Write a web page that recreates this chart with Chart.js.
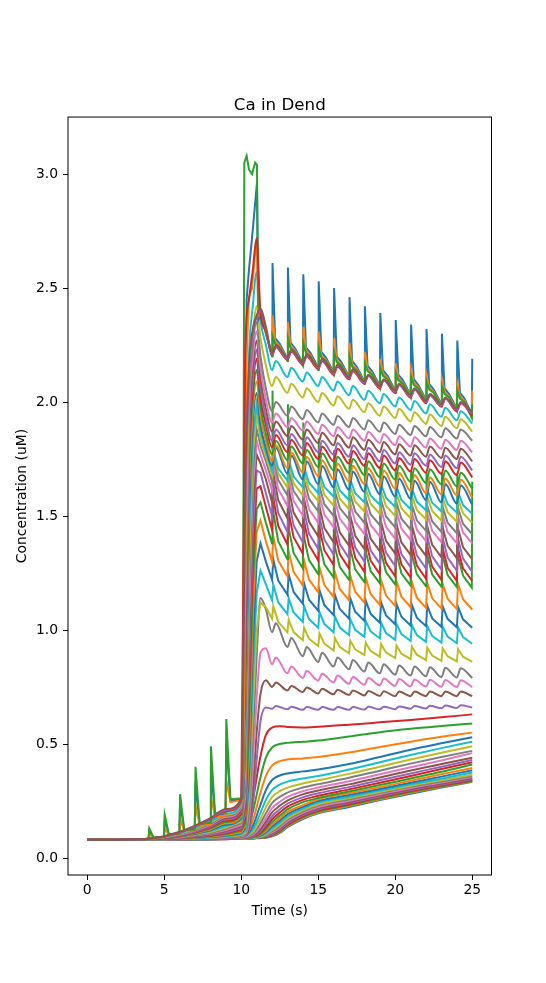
<!DOCTYPE html>
<html>
<head>
<meta charset="utf-8">
<script src="https://cdn.jsdelivr.net/npm/chart.js@4.4.1/dist/chart.umd.min.js"></script>
<style>
html,body{margin:0;padding:0;background:#fff;}
canvas{display:block;}
</style>
</head>
<body>
<canvas id="c" width="546" height="983" style="width:546px;height:983px"></canvas>
<script>
// ---------------- DATA ----------------
const TITLE = 'Ca in Dend';
const X_LABEL = 'Time (s)';
const Y_LABEL = 'Concentration (uM)';
const X_TICKS = [0, 5, 10, 15, 20, 25];
const Y_TICKS = [0, 0.5, 1.0, 1.5, 2.0, 2.5, 3.0];
const COLORS = ['#1f77b4','#ff7f0e','#2ca02c','#d62728','#9467bd','#8c564b','#e377c2','#7f7f7f','#bcbd22','#17becf'];

// time grids (s)
const tSmooth = [0,10,10.4,10.8,11.2,11.6,12,12.5,13,14,15,17,19,21,23,25];
const tHump = [0,4,6,8,9,10,10.25,10.5,10.75,11,11.25,11.6,12,12.25,13,13.25,14,14.25,15,15.25,16,16.25,17,17.25,18,18.25,19,19.25,20,20.25,21,21.25,22,22.25,23,23.25,24,24.25,25];
const tSaw = [0,4,6,8,9,10,10.25,10.5,10.75,11,11.25,11.6,12,12.08,12.4,13,13.08,13.4,14,14.08,14.4,15,15.08,15.4,16,16.08,16.4,17,17.08,17.4,
  18,18.08,18.4,19,19.08,19.4,20,20.08,20.4,21,21.08,21.4,22,22.08,22.4,23,23.08,23.4,24,24.08,24.4,25];
const tSawSpike = [0,4,6,8,9,10,10.25,10.5,10.75,11,11.25,11.6,12,12.03,12.1,12.4,13,13.03,13.1,13.4,14,14.03,14.1,14.4,15,15.03,15.1,15.4,
  16,16.03,16.1,16.4,17,17.03,17.1,17.4,18,18.03,18.1,18.4,19,19.03,19.1,19.4,20,20.03,20.1,20.4,21,21.03,21.1,21.4,
  22,22.03,22.1,22.4,23,23.03,23.1,23.4,24,24.03,24.1,24.4,24.97,25];
const tSpike = [0,3.98,4.03,4.3,4.98,5.03,5.3,5.98,6.03,6.3,6.98,7.03,7.3,7.98,8.03,8.3,8.98,9.03,9.3,10.1,10.2,10.35,10.5,10.7,10.9,11.02,11.1,11.3,11.6,
  12,12.03,12.2,12.5,13,13.03,13.2,13.5,14,14.03,14.2,14.5,15,15.03,15.2,15.5,16,16.03,16.2,16.5,17,17.03,17.2,17.5,18,18.03,18.2,18.5,
  19,19.03,19.2,19.5,20,20.03,20.2,20.5,21,21.03,21.2,21.5,22,22.03,22.2,22.5,23,23.03,23.2,23.5,24,24.03,24.2,24.5,24.97,25];

// concentration (uM), one array per compartment
const c0 = [.08,.084,.085,.086,.087,.089,.095,.11,.135,.171,.196,.224,.254,.282,.309,.334];
const c1 = [.08,.084,.085,.086,.088,.09,.097,.113,.139,.175,.2,.228,.258,.286,.312,.336];
const c2 = [.08,.084,.085,.087,.088,.091,.099,.116,.142,.179,.204,.232,.262,.29,.315,.338];
const c3 = [.08,.085,.086,.087,.089,.092,.101,.12,.146,.183,.208,.236,.266,.294,.318,.341];
const c4 = [.08,.085,.086,.088,.09,.094,.104,.124,.151,.188,.213,.241,.27,.298,.322,.345];
const c5 = [.08,.085,.086,.088,.09,.096,.108,.129,.156,.193,.218,.246,.275,.302,.327,.35];
const c6 = [.08,.085,.087,.088,.091,.098,.112,.134,.162,.198,.224,.251,.28,.307,.331,.355];
const c7 = [.08,.086,.087,.089,.092,.101,.117,.14,.168,.204,.23,.257,.285,.312,.336,.36];
const c8 = [.08,.086,.087,.089,.093,.104,.123,.147,.175,.21,.236,.263,.29,.317,.341,.365];
const c9 = [.08,.086,.088,.09,.095,.108,.13,.155,.183,.217,.243,.269,.296,.323,.348,.375];
const c10 = [.08,.086,.088,.091,.097,.113,.138,.164,.192,.224,.25,.276,.303,.33,.357,.385];
const c11 = [.08,.087,.089,.092,.1,.119,.147,.174,.202,.232,.258,.284,.311,.339,.367,.395];
const c12 = [.08,.087,.089,.093,.104,.127,.158,.186,.213,.245,.263,.292,.32,.349,.378,.41];
const c13 = [.08,.088,.09,.095,.109,.136,.17,.199,.225,.255,.273,.301,.33,.36,.39,.42];
const c14 = [.08,.088,.091,.097,.115,.147,.184,.213,.238,.266,.284,.311,.341,.371,.40,.43];
const c15 = [.08,.089,.092,.1,.123,.16,.2,.229,.252,.279,.296,.323,.353,.384,.412,.44];
const c16 = [.08,.09,.094,.104,.133,.176,.219,.247,.268,.293,.309,.337,.367,.398,.428,.46];
const c17 = [.08,.09,.096,.11,.147,.196,.241,.268,.287,.309,.324,.352,.383,.414,.443,.47];
const c18 = [.08,.09,.098,.118,.165,.222,.267,.293,.309,.327,.341,.369,.40,.432,.462,.49];
const c19 = [.08,.092,.101,.13,.19,.255,.298,.322,.335,.349,.36,.388,.42,.452,.482,.51];
const c20 = [.08,.093,.105,.148,.225,.298,.342,.362,.371,.38,.388,.412,.443,.475,.503,.53];
const c21 = [.08,.095,.11,.175,.275,.36,.405,.425,.432,.437,.443,.463,.487,.51,.532,.55];
const c22 = [.08,.1,.12,.215,.34,.44,.485,.5,.505,.51,.515,.533,.552,.567,.579,.59];
const c23 = [.08,.1,.13,.27,.43,.54,.572,.578,.575,.573,.576,.585,.595,.605,.617,.63];

const c24 = [.08,.081,.082,.085,.088,.091,.096,.12,.23,.43,.6,.66,.655,.667,.652,.664,.65,.662,.65,.662,.65,.662,.65,.662,.651,.663,.652,.664,.653,.665,.655,.667,.656,.668,.657,.669,.658,.67,.66];
const c25 = [.08,.081,.083,.086,.089,.093,.098,.13,.3,.55,.72,.78,.75,.77,.735,.755,.728,.748,.722,.742,.718,.738,.715,.735,.713,.733,.711,.731,.71,.73,.71,.73,.71,.73,.71,.73,.71,.73,.71];
const c26 = [.08,.081,.083,.087,.09,.095,.1,.16,.4,.7,.9,.92,.85,.88,.81,.84,.79,.82,.778,.808,.77,.8,.764,.794,.76,.79,.757,.787,.755,.785,.753,.783,.752,.782,.751,.781,.75,.78,.75];
const c27 = [.08,.081,.083,.088,.091,.097,.105,.2,.52,.88,1.14,1.09,.99,1.03,.925,.965,.885,.925,.86,.9,.84,.88,.828,.868,.818,.858,.81,.85,.804,.844,.8,.84,.797,.837,.794,.834,.792,.832,.79];
const c28 = [.08,.081,.084,.089,.093,.1,.11,.25,.65,1.0,1.12,1.1,
  1.05,1.105,1.036,.99,1.045,.991,.955,1.01,.962,.93,.985,.94,.91,.965,.925,.898,.953,.915,.89,.945,.908,.883,.938,.901,.877,.932,.896,.872,.927,.892,.868,.923,.888,.865,.92,.885,.862,.917,.883,.86];
const c29 = [.08,.081,.084,.09,.095,.104,.12,.3,.78,1.16,1.26,1.2,
  1.13,1.2,1.122,1.07,1.14,1.077,1.035,1.105,1.048,1.01,1.08,1.026,.99,1.06,1.011,.978,1.048,1.001,.97,1.04,.994,.963,1.033,.987,.957,1.027,.982,.952,1.022,.978,.948,1.018,.974,.945,1.015,.971,.942,1.012,.969,.94];
const c30 = [.08,.081,.085,.092,.098,.108,.13,.36,.92,1.3,1.38,1.3,
  1.22,1.31,1.217,1.155,1.245,1.167,1.115,1.205,1.133,1.085,1.175,1.109,1.065,1.155,1.092,1.05,1.14,1.08,1.04,1.13,1.071,1.032,1.122,1.064,1.025,1.115,1.058,1.02,1.11,1.054,1.017,1.107,1.051,1.014,1.104,1.049,1.012,1.102,1.047,1.01];
const c31 = [.08,.081,.085,.094,.101,.113,.14,.45,1.06,1.43,1.48,1.39,
  1.3,1.41,1.305,1.235,1.345,1.255,1.195,1.305,1.221,1.165,1.275,1.197,1.145,1.255,1.18,1.13,1.24,1.168,1.12,1.23,1.158,1.11,1.22,1.151,1.105,1.215,1.146,1.1,1.21,1.142,1.097,1.207,1.139,1.094,1.204,1.137,1.092,1.202,1.135,1.09];
const c32 = [.08,.082,.086,.096,.105,.119,.15,.56,1.2,1.53,1.56,1.47,
  1.38,2.05,1.51,1.39, 1.31,1.99,1.44,1.338, 1.27,1.91,1.4,1.307, 1.245,1.84,1.375,1.288, 1.23,1.79,1.36,1.276, 1.22,1.75,1.35,1.266,
  1.21,1.73,1.34,1.259, 1.205,1.72,1.335,1.254, 1.2,1.71,1.33,1.249, 1.195,1.70,1.325,1.245, 1.192,1.69,1.322,1.243, 1.19,1.69,1.32,1.241,
  1.188,1.69,1.318,1.239, 1.186,1.65];
const c33 = [.08,.082,.087,.098,.109,.125,.17,.68,1.32,1.62,1.63,1.54,
  1.44,1.58,1.457,1.375,1.515,1.407,1.335,1.475,1.373,1.305,1.445,1.349,1.285,1.425,1.332,1.27,1.41,1.317,1.255,1.395,1.305,1.245,1.385,1.295,1.235,1.375,1.288,1.23,1.37,1.283,1.225,1.365,1.278,1.22,1.36,1.273,1.215,1.355,1.271,1.215];
const c34 = [.08,.082,.088,.101,.113,.131,.19,.8,1.43,1.7,1.69,1.6,
  1.5,1.64,1.514,1.43,1.57,1.459,1.385,1.525,1.423,1.355,1.495,1.396,1.33,1.47,1.377,1.315,1.455,1.362,1.3,1.44,1.35,1.29,1.43,1.34,1.28,1.42,1.333,1.275,1.415,1.328,1.27,1.41,1.323,1.265,1.405,1.318,1.26,1.4,1.313,1.255];
const c35 = [.08,.082,.089,.104,.118,.138,.22,.92,1.53,1.77,1.73,1.66,
  1.56,1.69,1.57,1.49,1.62,1.515,1.445,1.575,1.476,1.41,1.54,1.447,1.385,1.515,1.428,1.37,1.5,1.413,1.355,1.485,1.401,1.345,1.475,1.391,1.335,1.465,1.384,1.33,1.46,1.379,1.325,1.455,1.374,1.32,1.45,1.369,1.315,1.445,1.364,1.31];
const c36 = [.08,.082,.09,.107,.123,.145,.26,1.04,1.62,1.83,1.77,1.7,
  1.61,1.73,1.619,1.545,1.665,1.566,1.5,1.62,1.53,1.47,1.59,1.506,1.45,1.57,1.489,1.435,1.555,1.474,1.42,1.54,1.462,1.41,1.53,1.452,1.4,1.52,1.445,1.395,1.515,1.44,1.39,1.51,1.435,1.385,1.505,1.43,1.38,1.5,1.428,1.38];
const c37 = [.08,.082,.091,.11,.128,.152,.3,1.16,1.7,1.88,1.81,1.74,
  1.65,1.76,1.658,1.59,1.7,1.61,1.55,1.66,1.576,1.52,1.63,1.552,1.5,1.61,1.535,1.485,1.595,1.52,1.47,1.58,1.508,1.46,1.57,1.498,1.45,1.56,1.488,1.44,1.55,1.481,1.435,1.545,1.476,1.43,1.54,1.471,1.425,1.535,1.466,1.42];
const c38 = [.08,.082,.092,.114,.134,.16,.36,1.28,1.78,1.94,1.84,1.76,
  1.68,1.78,1.687,1.625,1.725,1.644,1.59,1.69,1.615,1.565,1.665,1.593,1.545,1.645,1.576,1.53,1.63,1.564,1.52,1.62,1.554,1.51,1.61,1.544,1.5,1.6,1.534,1.49,1.59,1.527,1.485,1.585,1.522,1.48,1.58,1.517,1.475,1.575,1.512,1.47];
const c39 = [.08,.082,.093,.118,.14,.167,.42,1.4,1.84,1.99,1.87,1.78,
  1.7,1.79,1.709,1.655,1.745,1.673,1.625,1.715,1.646,1.6,1.69,1.627,1.585,1.675,1.612,1.57,1.66,1.6,1.56,1.65,1.59,1.55,1.64,1.58,1.54,1.63,1.57,1.53,1.62,1.563,1.525,1.615,1.558,1.52,1.61,1.553,1.515,1.605,1.548,1.51];
const c40 = [.08,.083,.094,.122,.146,.175,.5,1.5,1.9,2.04,1.9,1.8,1.72,1.8,1.685,1.765,1.66,1.74,1.64,1.72,1.625,1.705,1.615,1.695,1.605,1.685,1.595,1.675,1.585,1.665,1.575,1.655,1.57,1.65,1.56,1.64,1.555,1.635,1.55];
const c41 = [.08,.083,.095,.126,.152,.182,.6,1.6,1.96,2.09,1.94,1.83,1.74,1.81,1.71,1.78,1.69,1.76,1.675,1.745,1.66,1.73,1.65,1.72,1.64,1.71,1.63,1.7,1.62,1.69,1.61,1.68,1.6,1.67,1.595,1.665,1.59,1.66,1.58];
const c42 = [.08,.083,.096,.13,.158,.19,.7,1.68,2.01,2.14,1.98,1.86,1.77,1.83,1.745,1.805,1.73,1.79,1.715,1.775,1.7,1.76,1.69,1.75,1.68,1.74,1.67,1.73,1.66,1.72,1.65,1.71,1.645,1.705,1.64,1.7,1.63,1.69,1.62];
const c43 = [.08,.083,.097,.134,.164,.197,.8,1.75,2.06,2.19,2.02,1.9,1.8,1.855,1.78,1.835,1.765,1.82,1.75,1.805,1.74,1.795,1.73,1.785,1.72,1.775,1.71,1.765,1.7,1.755,1.695,1.75,1.69,1.745,1.685,1.74,1.68,1.735,1.67];
const c44 = [.08,.083,.099,.138,.17,.205,.9,1.82,2.1,2.23,2.06,1.93,1.83,1.88,1.81,1.86,1.795,1.845,1.78,1.83,1.77,1.82,1.76,1.81,1.75,1.8,1.74,1.79,1.73,1.78,1.725,1.775,1.72,1.77,1.715,1.765,1.71,1.76,1.7];
const c45 = [.08,.083,.1,.142,.175,.212,1.0,1.88,2.15,2.27,2.1,1.97,1.87,1.915,1.85,1.895,1.835,1.88,1.82,1.865,1.81,1.855,1.8,1.845,1.79,1.835,1.78,1.825,1.77,1.815,1.765,1.81,1.76,1.805,1.755,1.8,1.75,1.795,1.74];
const c46 = [.08,.084,.102,.146,.18,.22,1.1,1.95,2.2,2.31,2.15,2.01,1.91,1.95,1.89,1.93,1.875,1.915,1.86,1.9,1.85,1.89,1.84,1.88,1.83,1.87,1.82,1.86,1.81,1.85,1.805,1.845,1.8,1.84,1.795,1.835,1.79,1.83,1.78];
const c47 = [.08,.084,.104,.15,.185,.228,1.2,2.0,2.25,2.35,2.2,2.06,1.96,2.0,1.94,1.98,1.925,1.965,1.91,1.95,1.9,1.94,1.89,1.93,1.88,1.92,1.87,1.91,1.86,1.9,1.855,1.895,1.85,1.89,1.845,1.885,1.84,1.88,1.83];
const c48 = [.08,.084,.106,.155,.19,.235,1.3,2.1,2.3,2.42,2.28,2.16,2.07,2.11,2.04,2.08,2.02,2.06,2.0,2.04,1.985,2.025,1.97,2.01,1.955,1.995,1.94,1.98,1.93,1.97,1.915,1.955,1.905,1.945,1.895,1.935,1.885,1.925,1.87];
const c49 = [.08,.084,.108,.16,.195,.24,1.45,2.2,2.42,2.57,2.36,2.25,2.14,2.18,2.11,2.15,2.09,2.13,2.07,2.11,2.05,2.09,2.03,2.07,2.01,2.05,1.995,2.035,1.98,2.02,1.965,2.005,1.95,1.99,1.935,1.975,1.92,1.96,1.905];
const c50 = [.08,.083,.12,.09,.092,.17,.103,.105,.245,.12,.123,.33,.145,.15,.40,.185,.19,.50,.25,
  .26,1.0,2.45,2.58,2.72,2.87,2.96,2.36,2.39,2.3,
  2.21,2.61,2.28,2.255,2.19,2.59,2.26,2.235,2.17,2.56,2.24,2.215,2.15,2.53,2.22,2.195,2.13,2.5,2.2,2.175,2.11,2.46,2.18,2.155,
  2.09,2.42,2.16,2.135,2.07,2.39,2.14,2.115,2.05,2.36,2.12,2.095,2.03,2.34,2.1,2.075,2.01,2.32,2.08,2.055,1.99,2.3,2.06,2.035,
  1.97,2.27,2.04,2.015,1.945,2.19];
const c51 = [.08,.083,.105,.089,.091,.13,.102,.104,.175,.118,.121,.23,.142,.147,.27,.18,.186,.34,.245,
  .255,.8,2.2,2.46,2.5,2.65,2.7,2.38,2.38,2.3,
  2.205,2.38,2.265,2.245,2.185,2.35,2.245,2.225,2.165,2.33,2.225,2.205,2.145,2.31,2.205,2.185,2.125,2.28,2.185,2.165,2.105,2.26,2.165,2.145,
  2.085,2.22,2.145,2.125,2.065,2.19,2.125,2.105,2.045,2.17,2.105,2.085,2.025,2.14,2.085,2.065,2.005,2.12,2.065,2.045,1.985,2.1,2.045,2.025,
  1.965,2.08,2.025,2.005,1.935,2.05];
const c52 = [.08,.083,.13,.09,.092,.19,.104,.106,.28,.122,.125,.4,.15,.155,.49,.195,.2,.61,.258,
  .262,3.05,3.08,3.02,3.0,3.05,3.04,2.42,2.4,2.31,
  2.2,2.29,2.255,2.24,2.18,2.28,2.235,2.22,2.16,2.26,2.215,2.2,2.14,2.24,2.195,2.18,2.12,2.22,2.175,2.16,2.1,2.2,2.155,2.14,
  2.08,2.17,2.135,2.12,2.06,2.15,2.115,2.1,2.04,2.13,2.095,2.08,2.02,2.11,2.075,2.06,2.0,2.09,2.055,2.04,1.98,2.07,2.035,2.02,
  1.96,2.05,2.015,2.0,1.93,1.99];
const c53 = [.08,.085,.112,.17,.205,.25,2.2,2.45,2.58,2.72,2.39,2.31,2.205,2.24,2.185,2.22,2.165,2.2,2.145,2.18,2.12,2.155,2.1,2.135,2.08,2.115,2.06,2.095,2.04,2.075,2.02,2.055,1.995,2.03,1.98,2.015,1.96,1.995,1.94];
const c54 = [.08,.085,.113,.172,.21,.255,1.5,2.1,2.3,2.37,2.4,2.32,2.21,2.245,2.19,2.225,2.17,2.205,2.15,2.185,2.125,2.16,2.105,2.14,2.085,2.115,2.065,2.095,2.045,2.075,2.025,2.055,2.0,2.03,1.985,2.015,1.965,1.995,1.95];
const c55 = [.08,.085,.115,.175,.215,.26,1.6,2.15,2.32,2.38,2.41,2.33,2.215,2.25,2.195,2.23,2.175,2.21,2.155,2.19,2.13,2.165,2.11,2.145,2.09,2.12,2.07,2.1,2.05,2.08,2.03,2.06,2.005,2.035,1.99,2.02,1.97,2.0,1.955];

// [time grid, values, smooth curve?] in plotting order
const SERIES = [
  [tSmooth,c0,1],[tSmooth,c1,1],[tSmooth,c2,1],[tSmooth,c3,1],[tSmooth,c4,1],[tSmooth,c5,1],[tSmooth,c6,1],[tSmooth,c7,1],
  [tSmooth,c8,1],[tSmooth,c9,1],[tSmooth,c10,1],[tSmooth,c11,1],[tSmooth,c12,1],[tSmooth,c13,1],[tSmooth,c14,1],[tSmooth,c15,1],
  [tSmooth,c16,1],[tSmooth,c17,1],[tSmooth,c18,1],[tSmooth,c19,1],[tSmooth,c20,1],[tSmooth,c21,1],[tSmooth,c22,1],[tSmooth,c23,1],
  [tHump,c24,1],[tHump,c25,1],[tHump,c26,1],[tHump,c27,1],[tSaw,c28,0],[tSaw,c29,0],[tSaw,c30,0],[tSaw,c31,0],
  [tSawSpike,c32,0],[tSaw,c33,0],[tSaw,c34,0],[tSaw,c35,0],[tSaw,c36,0],[tSaw,c37,0],[tSaw,c38,0],[tSaw,c39,0],
  [tHump,c40,1],[tHump,c41,1],[tHump,c42,1],[tHump,c43,1],[tHump,c44,1],[tHump,c45,1],[tHump,c46,1],[tHump,c47,1],
  [tHump,c48,1],[tHump,c49,1],[tSpike,c50,0],[tSpike,c51,0],[tSpike,c52,0],[tHump,c53,1],[tHump,c54,1],[tHump,c55,1]
];

// ---------------- CHART ----------------
const datasets = [];
SERIES.forEach(([t, v, smooth], i) => {
  const ds = {
    label: 'c' + i,
    data: t.map((x, k) => ({x: x, y: v[k]})),
    borderColor: COLORS[i % 10],
    backgroundColor: COLORS[i % 10],
    borderWidth: 2,
    pointRadius: 0,
    tension: 0,
    fill: false,
    order: SERIES.length - i
  };
  if (smooth) ds.cubicInterpolationMode = 'monotone';
  datasets.push(ds);
});

const FONT = 'DejaVu Sans';
const frame = {
  id: 'frame',
  beforeDraw(chart) {
    const ctx = chart.ctx;
    ctx.save();
    ctx.fillStyle = '#fff';
    ctx.fillRect(0, 0, chart.width, chart.height);
    ctx.restore();
  },
  afterDraw(chart) {
    const {ctx, chartArea: a} = chart;
    ctx.save();
    ctx.strokeStyle = '#000';
    ctx.lineWidth = 1;
    ctx.strokeRect(a.left, a.top, a.right - a.left, a.bottom - a.top);
    ctx.restore();
  }
};

new Chart(document.getElementById('c'), {
  type: 'line',
  data: {datasets},
  plugins: [frame],
  options: {
    responsive: false,
    devicePixelRatio: 1,
    animation: false,
    events: [],
    layout: {padding: {left: 0, right: 54.5, top: 0, bottom: 48}},
    plugins: {
      legend: {display: false},
      tooltip: {enabled: false},
      title: {
        display: true, text: TITLE, fullSize: false, color: '#000',
        font: {family: FONT, size: 16.7, weight: 'normal'},
        padding: {top: 96, bottom: 1}
      }
    },
    scales: {
      x: {
        type: 'linear', min: -1.25, max: 26.25,
        afterFit: s => { s.height = 60; },
        afterBuildTicks: s => { s.ticks = X_TICKS.map(v => ({value: v})); },
        border: {display: false},
        grid: {display: true, drawOnChartArea: false, drawTicks: true, tickLength: 5, color: '#000', lineWidth: 1},
        ticks: {color: '#000', padding: 2, maxRotation: 0, font: {family: FONT, size: 13.9}, callback: v => String(v)},
        title: {display: true, text: X_LABEL, color: '#000', font: {family: FONT, size: 13.9}, padding: {top: 0, bottom: 15.5}}
      },
      y: {
        type: 'linear', min: -0.0745, max: 3.25,
        afterFit: s => { s.width = 68; },
        afterBuildTicks: s => { s.ticks = Y_TICKS.map(v => ({value: v})); },
        border: {display: false},
        grid: {display: true, drawOnChartArea: false, drawTicks: true, tickLength: 5, color: '#000', lineWidth: 1},
        ticks: {color: '#000', padding: 5, font: {family: FONT, size: 13.9}, callback: v => Number(v).toFixed(1)},
        title: {display: true, text: Y_LABEL, color: '#000', font: {family: FONT, size: 13.9}, padding: {top: 14.5, bottom: 0}}
      }
    }
  }
});
</script>
</body>
</html>
